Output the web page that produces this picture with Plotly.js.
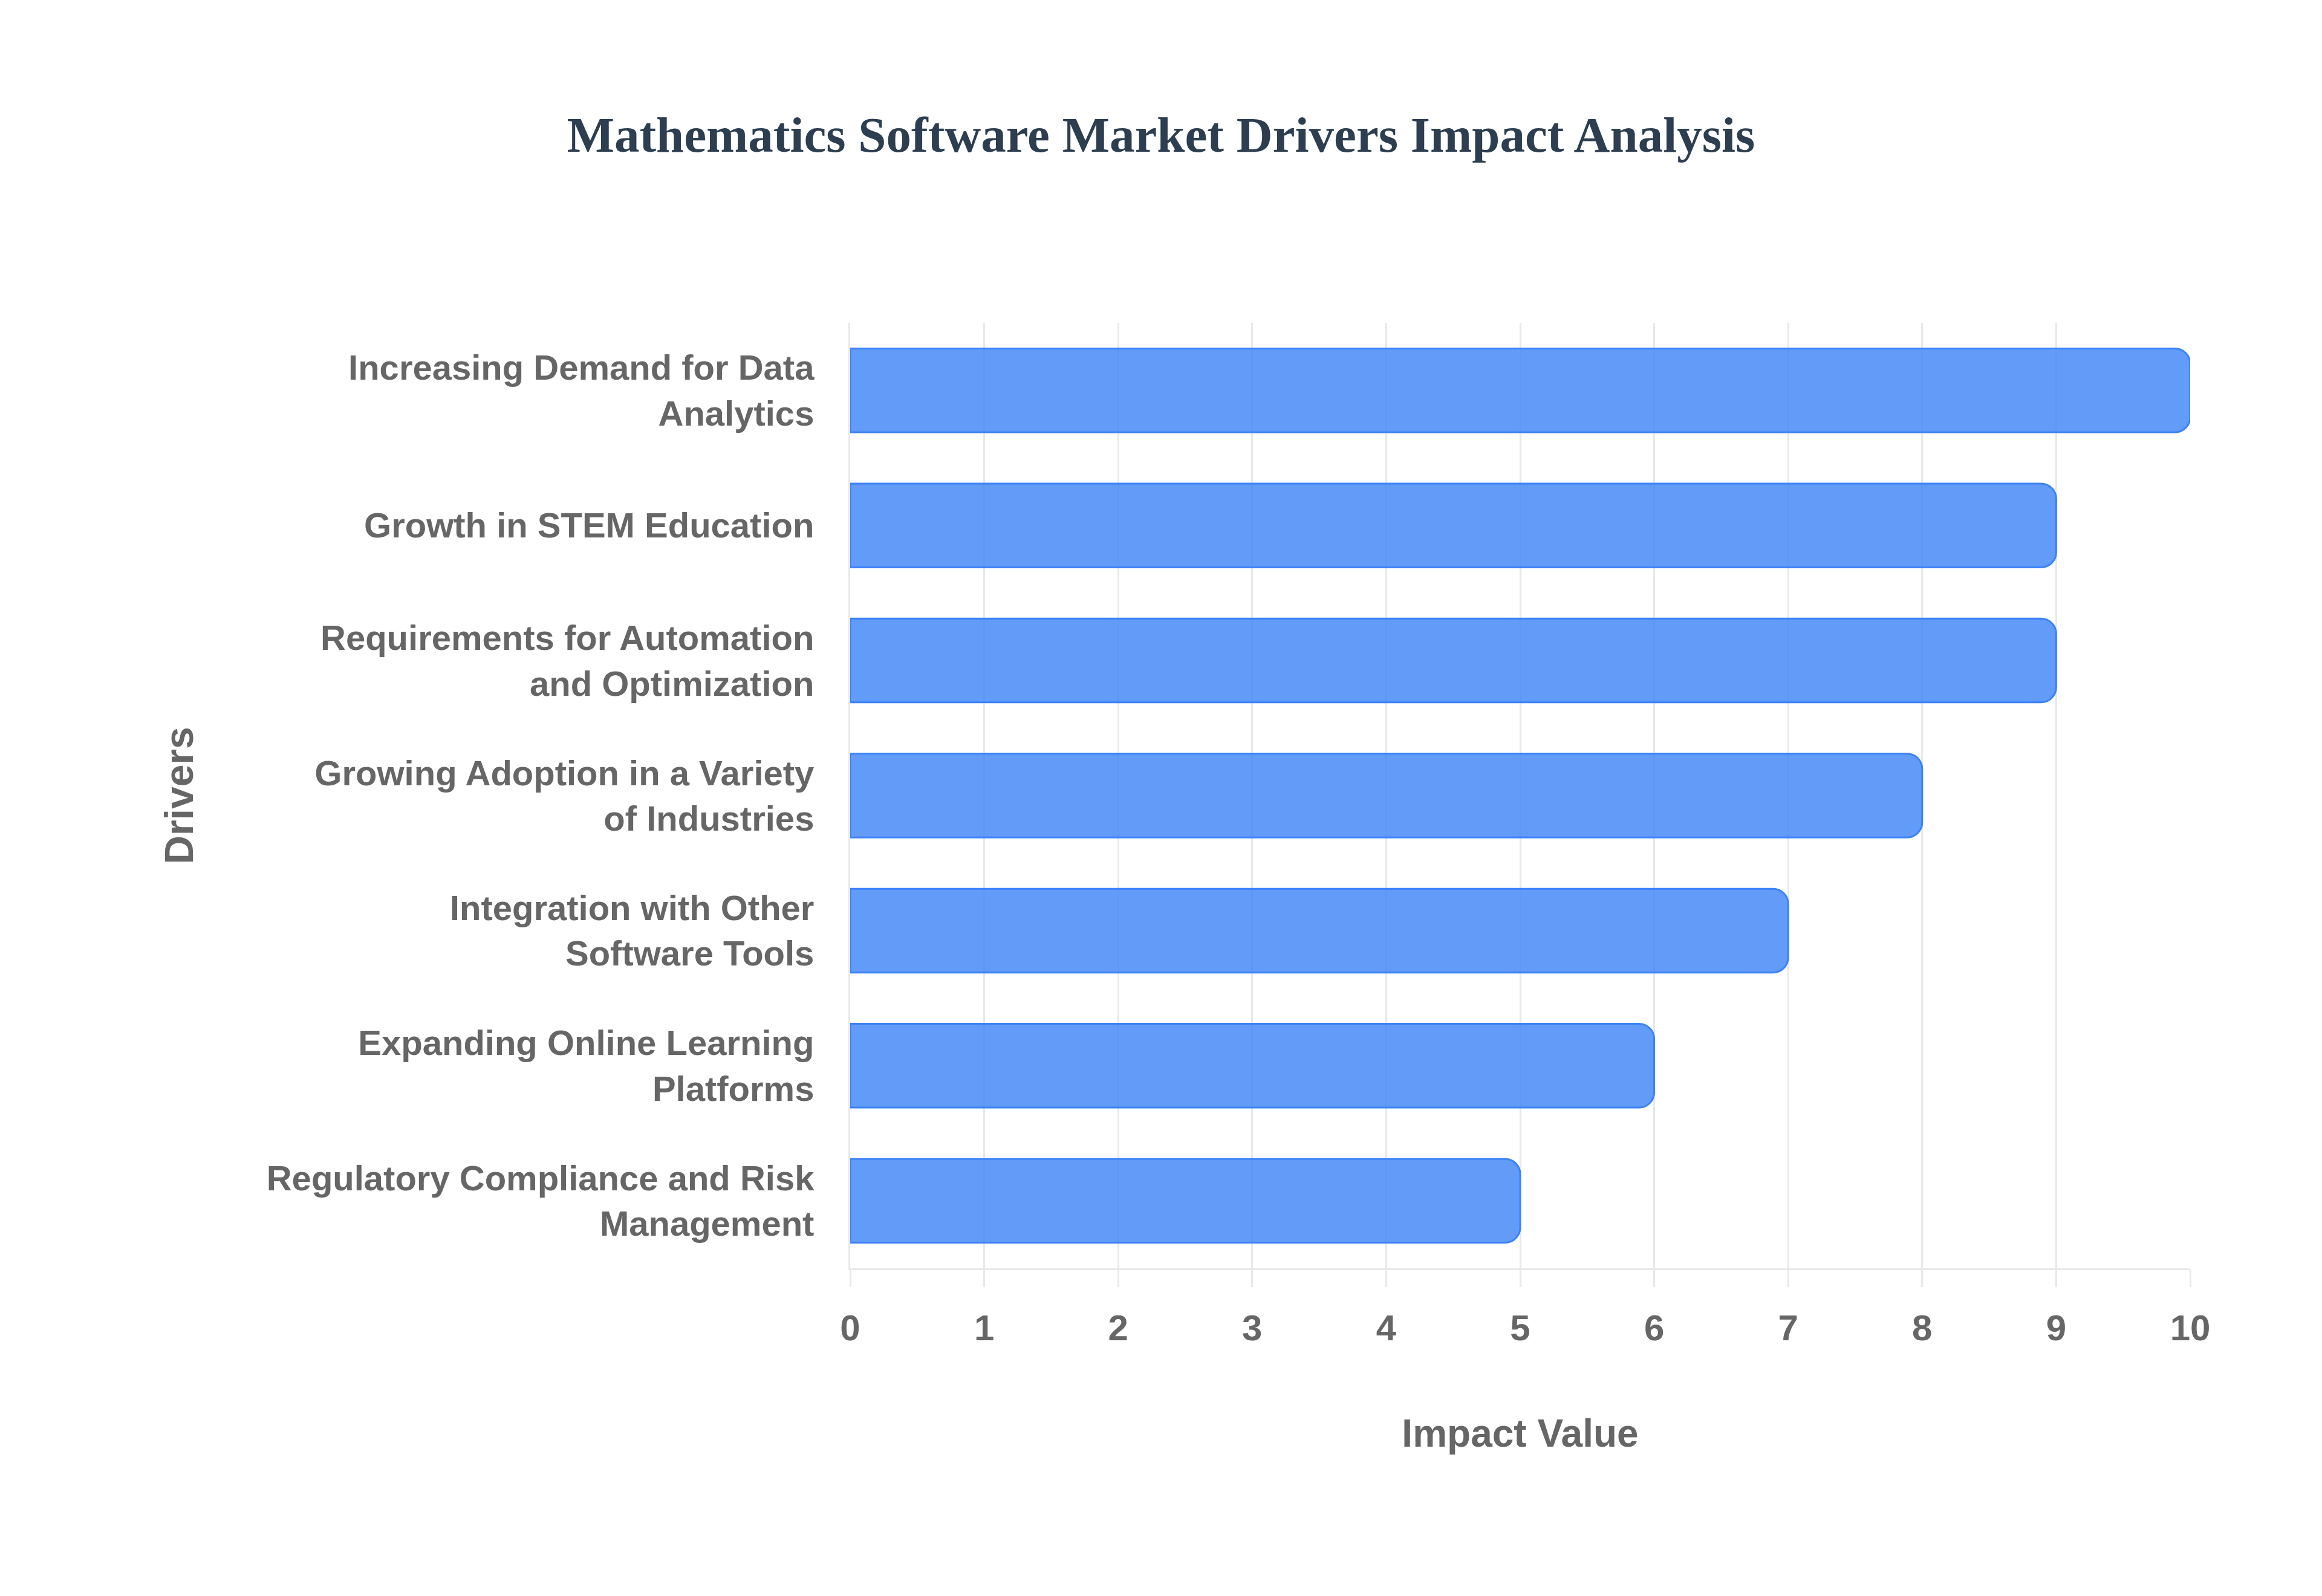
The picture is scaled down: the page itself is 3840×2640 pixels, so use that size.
<!DOCTYPE html>
<html>
<head>
<meta charset="utf-8">
<script src="https://cdn.plot.ly/plotly-3.0.1.min.js"></script>
<style>html,body{margin:0;padding:0;background:#fff;}#chart{width:3840px;height:2640px;}</style>
</head>
<body>
<div id="chart"></div>
<script>
const drivers = [
  "Increasing Demand for Data<br>Analytics",
  "Growth in STEM Education",
  "Requirements for Automation<br>and Optimization",
  "Growing Adoption in a Variety<br>of Industries",
  "Integration with Other<br>Software Tools",
  "Expanding Online Learning<br>Platforms",
  "Regulatory Compliance and Risk<br>Management"
];
const impactValues = [10, 9, 9, 8, 7, 6, 5];
const xTickValues = [0, 1, 2, 3, 4, 5, 6, 7, 8, 9, 10];

const gridColor = "#e8e8e8";
const labelColor = "#666666";

const trace = {
  type: "bar",
  orientation: "h",
  y: drivers,
  x: impactValues,
  marker: {
    color: "rgba(59,130,246,0.8)",
    line: { color: "rgba(59,130,246,1)", width: 3 },
    cornerradius: 25
  },
  hoverinfo: "x+y"
};

const layout = {
  width: 3840,
  height: 2640,
  paper_bgcolor: "#ffffff",
  plot_bgcolor: "#ffffff",
  showlegend: false,
  bargap: 0.38,
  margin: { l: 1406, r: 218, t: 534, b: 542, pad: 0 },
  title: {
    text: "<b>Mathematics Software Market Drivers Impact Analysis</b>",
    font: { family: "Liberation Serif, Times New Roman, serif", size: 83, color: "#2c3e50" },
    x: 0.5, xanchor: "center", xref: "container",
    y: 1 - 222 / 2640, yanchor: "middle", yref: "container"
  },
  xaxis: {
    range: [0, 10],
    tickvals: xTickValues,
    ticktext: xTickValues.map(String),
    showgrid: true,
    gridcolor: gridColor,
    gridwidth: 3,
    zeroline: false,
    showline: true,
    linecolor: gridColor,
    linewidth: 3,
    ticks: "outside",
    ticklen: 28,
    tickwidth: 3,
    tickcolor: gridColor,
    ticklabelstandoff: 16,
    tickfont: { family: "Liberation Sans, Arial, sans-serif", size: 60, color: labelColor, weight: "bold" },
    title: {
      text: "Impact Value",
      standoff: 120,
      font: { family: "Liberation Sans, Arial, sans-serif", size: 64, color: labelColor, weight: "bold" }
    }
  },
  yaxis: {
    autorange: "reversed",
    showgrid: false,
    zeroline: false,
    showline: true,
    linecolor: gridColor,
    linewidth: 3,
    ticks: "",
    ticklabelstandoff: 45,
    tickfont: { family: "Liberation Sans, Arial, sans-serif", size: 58, color: labelColor, weight: "bold" },
    title: {
      text: "Drivers",
      standoff: 100,
      font: { family: "Liberation Sans, Arial, sans-serif", size: 66, color: labelColor, weight: "bold" }
    }
  }
};

Plotly.newPlot("chart", [trace], layout, { displayModeBar: false, responsive: false });
</script>
</body>
</html>
